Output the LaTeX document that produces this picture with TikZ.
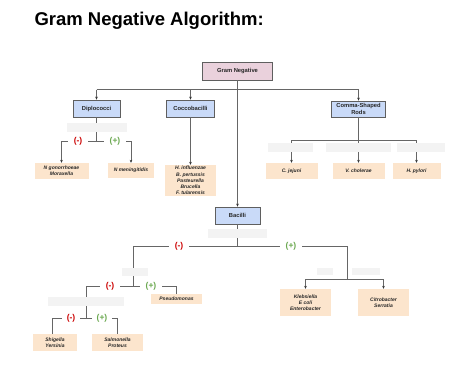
\documentclass[tikz,border=0pt]{standalone}
\usepackage{fontspec}
\setmainfont{Liberation Sans}
\usetikzlibrary{arrows.meta}
\definecolor{lineg}{HTML}{666666}
\definecolor{boxedge}{HTML}{5F5F5F}
\definecolor{bluefill}{HTML}{C9DAF8}
\definecolor{pinkfill}{HTML}{EAD1DC}
\definecolor{peach}{HTML}{FCE5CD}
\definecolor{fadeg}{HTML}{F3F3F3}
\definecolor{negred}{HTML}{CC0000}
\definecolor{posgreen}{HTML}{6AA84F}
\begin{document}
\begin{tikzpicture}[x=1pt,y=-1pt,
  cbox/.style={draw=boxedge, line width=0.7pt, inner sep=0pt, align=center, text=black!85,
    font=\fontsize{5.8}{6.8}\selectfont\bfseries},
  bluebox/.style={cbox, fill=bluefill},
  pinkbox/.style={cbox, fill=pinkfill},
  spec/.style={fill=peach, inner sep=0pt, align=center, text=black!85,
    font=\fontsize{5}{6.2}\selectfont\bfseries\itshape},
  fade/.style={fill=fadeg, inner sep=0pt},
  conn/.style={draw=lineg, line width=0.8pt},
  arr/.style={conn, -{Stealth[length=3pt,width=2.6pt,black!80]}},
  sgn/.style={fill=white, inner xsep=6pt, inner ysep=1pt, font=\fontsize{8.5}{9}\selectfont\bfseries},
  negsign/.style={sgn, text=negred},
  possign/.style={sgn, text=posgreen}
]
\useasboundingbox (0,0) rectangle (474,370);

\node[anchor=west, font=\fontsize{18.5}{20}\selectfont\bfseries] (title) at (31,21) {Gram Negative Algorithm:};

% main boxes
\node[pinkbox, minimum width=70, minimum height=18] (gn) at (237.5,71) {Gram Negative};
\node[bluebox, minimum width=47, minimum height=17] (diplo) at (96.5,108.5) {Diplococci};
\node[bluebox, minimum width=48, minimum height=17] (cocco) at (190.5,108.5) {Coccobacilli};
\node[bluebox, minimum width=54, minimum height=16] (comma) at (358.5,109) {Comma-Shaped\\Rods};
\node[bluebox, minimum width=45, minimum height=17] (bacilli) at (237.5,215.5) {Bacilli};

% species boxes
\node[spec, minimum width=54, minimum height=16] (ngon) at (61.5,171) {N gonorrhoeae\\Moraxella};
\node[spec, minimum width=46, minimum height=15] (nmen) at (131,170.5) {N meningitidis};
\node[spec, minimum width=51, minimum height=31] (hinf) at (190.5,180.5) {H. influenzae\\B. pertussis\\Pasteurella\\Brucella\\F. tularensis};
\node[spec, minimum width=52, minimum height=16] (cjej) at (291.5,171) {C. jejuni};
\node[spec, minimum width=52, minimum height=16] (vcho) at (358.5,171) {V. cholerae};
\node[spec, minimum width=48, minimum height=16] (hpyl) at (416.5,171) {H. pylori};
\node[spec, minimum width=51, minimum height=27] (kleb) at (305.5,302.5) {Klebsiella\\E coli\\Enterobacter};
\node[spec, minimum width=51, minimum height=27] (citro) at (383.5,302.5) {Citrobacter\\Serratia};
\node[spec, minimum width=51, minimum height=10] (pseudo) at (176.5,299) {Pseudomonas};
\node[spec, minimum width=44, minimum height=17] (shig) at (55,342.5) {Shigella\\Yersinia};
\node[spec, minimum width=51, minimum height=17] (salm) at (117.5,342.5) {Salmonella\\Proteus};

% junction coordinates
\coordinate (top) at (237.5,89.5);
\coordinate (dT) at (96.5,141);
\coordinate (cT) at (358.5,140.5);
\coordinate (bT) at (237.5,246.5);
\coordinate (rT) at (347.5,279.5);
\coordinate (lT) at (133.5,286.5);
\coordinate (l3T) at (86.5,318.5);

% top level
\draw[arr] (gn.south) -- (bacilli.north);
\draw[conn] (top -| diplo.north) -- (top -| comma.north);
\draw[arr] (top -| diplo.north) -- (diplo.north);
\draw[arr] (top -| cocco.north) -- (cocco.north);
\draw[arr] (top -| comma.north) -- (comma.north);

% diplococci
\draw[conn] (diplo.south) -- (dT);
\draw[arr] (dT) -| (ngon.north);
\draw[arr] (dT) -| (nmen.north);
% coccobacilli
\draw[arr] (cocco.south) -- (hinf.north);
% comma-shaped rods
\draw[conn] (comma.south) -- (cT);
\draw[arr] (cT) -| (cjej.north);
\draw[arr] (cT) -- (vcho.north);
\draw[arr] (cT) -| (hpyl.north);

% bacilli
\draw[conn] (bacilli.south) -- (bT);
\draw[conn] (bT) -| (lT);
\draw[conn] (bT) -| (rT);
\draw[arr] (rT) -| (kleb.north);
\draw[arr] (rT) -| (citro.north);
\draw[conn] (lT) -| (l3T);
\draw[conn] (lT) -| (pseudo.north);
\draw[conn] (l3T) -| ([xshift=-3pt]shig.north);
\draw[conn] (l3T) -| (salm.north);

% faded (hidden) labels
\node[fade, minimum width=60, minimum height=9] (f1) at (97,127.5) {};
\node[fade, minimum width=45, minimum height=9] (fc1) at (290.5,147.5) {};
\node[fade, minimum width=65, minimum height=9] (fc2) at (358.5,147.5) {};
\node[fade, minimum width=48, minimum height=9] (fc3) at (421,147.5) {};
\node[fade, minimum width=59, minimum height=9] (fb) at (237.5,233.5) {};
\node[fade, minimum width=16, minimum height=7] (fk1) at (325,271.5) {};
\node[fade, minimum width=28, minimum height=7] (fk2) at (366,271.5) {};
\node[fade, minimum width=26, minimum height=8] (fl1) at (135,272) {};
\node[fade, minimum width=76, minimum height=9] (fl2) at (86,301.5) {};

% sign labels
\node[negsign] (dm) at (78,141) {(-)};
\node[possign] (dp) at (115,141) {(+)};
\node[negsign] (bm) at (179,246.5) {(-)};
\node[possign] (bp) at (291,246.5) {(+)};
\node[negsign] (lm) at (110,286.5) {(-)};
\node[possign] (lp) at (151,286.5) {(+)};
\node[negsign, inner xsep=5pt] (l3m) at (71,318.5) {(-)};
\node[possign, inner xsep=4.5pt] (l3p) at (102,318.5) {(+)};
\end{tikzpicture}
\end{document}
